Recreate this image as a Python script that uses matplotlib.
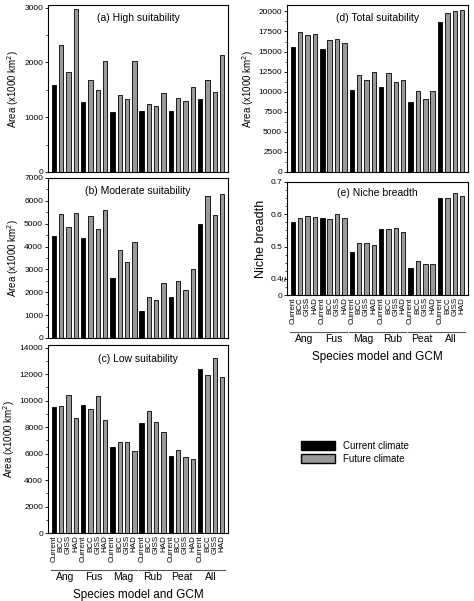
import matplotlib
matplotlib.use("Agg")
import matplotlib.pyplot as plt
import numpy as np

groups = ["Ang", "Fus", "Mag", "Rub", "Peat", "All"]
gcms = ["Current", "BCC", "GISS", "HAD"]
high = [1580,2320,1820,2980, 1280,1680,1490,2020, 1090,1400,1340,2020, 1110,1240,1210,1450, 1110,1360,1290,1550, 1340,1680,1470,2130]
moderate = [4480,5440,4870,5480, 4380,5330,4790,5600, 2640,3850,3330,4180, 1190,1800,1680,2390, 1780,2500,2100,3020, 4990,6200,5400,6320]
low = [9500,9600,10400,8700, 9700,9350,10350,8500, 6500,6850,6850,6200, 8300,9250,8350,7600, 5800,6250,5750,5600, 12400,11900,13200,11800]
total = [15600,17400,17100,17200, 15300,16400,16600,16100, 10200,12100,11400,12400, 10600,12300,11200,11400, 8700,10100,9100,10100, 18700,19800,20100,20200]
niche = [0.577,0.588,0.595,0.593, 0.588,0.586,0.602,0.588, 0.483,0.510,0.510,0.506, 0.553,0.555,0.556,0.546, 0.435,0.456,0.447,0.446, 0.650,0.650,0.665,0.656]

plt.rcParams['font.family'] = ['Liberation Sans', 'DejaVu Sans']
W, H = 474, 601
fig = plt.figure(figsize=(W/100, H/100), dpi=100)

def ax_px(x0, y0, x1, y1):
    a = fig.add_axes([x0/W, 1-y1/H, (x1-x0)/W, (y1-y0)/H])
    a._hpx = y1 - y0
    return a

x = np.arange(24)
colors = ['black' if i % 4 == 0 else '#999999' for i in range(24)]

def draw(ax, vals, title, ylim, ticks, ylabel, xlabels=False, bottom=0):
    ax.bar(x, np.array(vals)-bottom, bottom=bottom, width=0.6, color=colors, edgecolor='black', linewidth=0.6)
    ax.set_xlim(-0.8, 23.8)
    ax.set_ylim(*ylim)
    ax.set_yticks(ticks)
    ax.tick_params(axis='y', labelsize=6, length=2, width=0.6, pad=1.5)
    ax.yaxis.set_minor_locator(matplotlib.ticker.AutoMinorLocator(2))
    ax.tick_params(axis='y', which='minor', length=1.5, width=0.5)
    ax.set_ylabel(ylabel, fontsize=7, labelpad=2)
    ax.text(0.5, 0.95, title, transform=ax.transAxes, ha='center', va='top', fontsize=7.5)
    for s in ax.spines.values():
        s.set_linewidth(0.8)
    if xlabels:
        h = ax._hpx
        ax.set_xticks(x)
        ax.set_xticklabels(gcms*6, rotation=90, fontsize=5.8, linespacing=0.8)
        ax.tick_params(axis='x', length=0, pad=1.5)
        ly = -37/h
        for g, name in enumerate(groups):
            ax.plot([g*4-0.4, g*4+3.4], [ly, ly], color='#555555', lw=0.8,
                    transform=ax.get_xaxis_transform(), clip_on=False)
            ax.text(g*4+1.5, ly-2/h, name, transform=ax.get_xaxis_transform(), ha='center', va='top', fontsize=7.5)
        ax.text(0.5, -(56/h), "Species model and GCM", transform=ax.transAxes, ha='center', va='top', fontsize=8.5)
    else:
        ax.set_xticks([])

ylab = "Area (x1000 km$^2$)"
a = ax_px(48, 5, 228, 172)
draw(a, high, "(a) High suitability", (0, 3050), [0, 1000, 2000, 3000], ylab)
b = ax_px(48, 178, 228, 338)
draw(b, moderate, "(b) Moderate suitability", (0, 7000), range(0, 7001, 1000), ylab)
c = ax_px(48, 345, 228, 533)
draw(c, low, "(c) Low suitability", (0, 14200), range(0, 14001, 2000), ylab, xlabels=True)
d = ax_px(287, 5, 468, 172)
draw(d, total, "(d) Total suitability", (0, 20800), range(0, 20001, 2500), ylab)
e = ax_px(287, 182, 468, 295)
draw(e, niche, "(e) Niche breadth", (0.35, 0.7), [0.35, 0.4, 0.5, 0.6, 0.7], "Niche breadth", xlabels=True, bottom=0.35)
e.set_yticklabels(["0", "0.4", "0.5", "0.6", "0.7"])
e.yaxis.label.set_size(9)
e.text(-0.01, 0.15, "≈", transform=e.transAxes, ha='center', va='center', fontsize=7, rotation=90)

from matplotlib.patches import Patch
fig.legend(handles=[Patch(facecolor='black', edgecolor='black', label='Current climate'),
                    Patch(facecolor='#999999', edgecolor='black', label='Future climate')],
           loc='upper left', bbox_to_anchor=(292/W, 1-432/H), frameon=False, fontsize=7,
           handlelength=3.5, handleheight=1.0, labelspacing=0.3)

fig.savefig("out.png", dpi=100)
